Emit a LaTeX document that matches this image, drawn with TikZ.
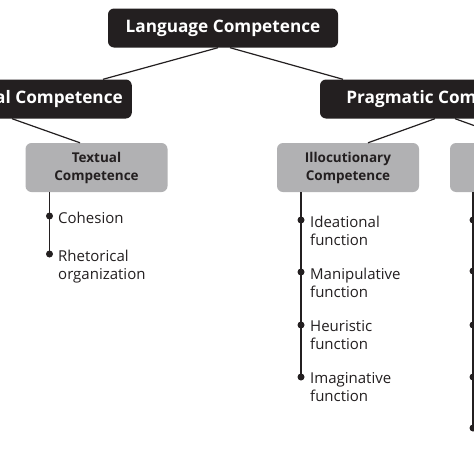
\documentclass[tikz,border=0pt]{standalone}
\usepackage{fontspec}
\setmainfont{Open Sans}
\usetikzlibrary{positioning,calc}
\definecolor{boxblack}{HTML}{231F20}
\definecolor{boxgray}{HTML}{B1B1B3}
\definecolor{inkdark}{HTML}{231F20}

\begin{document}
\begin{tikzpicture}[
    x=1pt, y=-1pt,
    topbox/.style={rectangle, rounded corners=6pt, fill=boxblack, text=white, font=\fontsize{17.2}{20}\selectfont\bfseries, minimum height=39pt, inner xsep=12pt},
    subbox/.style={rectangle, rounded corners=6pt, fill=boxgray, text=inkdark, font=\fontsize{13.5}{18}\selectfont\bfseries, align=center, minimum width=142pt, minimum height=49pt},
    leaf/.style={anchor=north west, inner sep=0pt, align=left, text=inkdark, font=\fontsize{15}{18}\selectfont},
    link/.style={draw=inkdark, line width=1.2pt},
    dot/.style={circle, fill=inkdark, inner sep=0pt, minimum size=7pt}
  ]
  \useasboundingbox (0,0) rectangle (474,474);
  \clip (0,0) rectangle (474,474);
  \fill[white] (0,0) rectangle (474,474);

  % Top levels
  \node[topbox, minimum width=230pt] (lang) at (223,28) {Language Competence};
  \node[topbox, anchor=east, inner xsep=9pt] (org) at (132,99) {Organizational Competence};
  \node[topbox, minimum width=252pt] (prag) at (446,99) {Pragmatic Competence};

  % Second level
  \node[subbox] (textual) at (96.5,167.5) {Textual\\Competence};
  \node[subbox] (illoc) at (348,167.5) {Illocutionary\\Competence};
  \node[subbox] (socio) at (521,167.5) {};

  \draw[link] ([xshift=-5pt]lang.south) -- ([xshift=-29pt]org.north east);
  \draw[link] ([xshift=7pt]lang.south) -- ([xshift=-103pt]prag.north);
  \draw[link] ([xshift=-120pt]org.south east) -- ([xshift=-16.5pt]textual.north);
  \draw[link] ([xshift=-11pt]prag.south) -- ([xshift=20pt]illoc.north);
  \draw[link] ([xshift=9pt]prag.south) -- ([xshift=1pt]socio.north);

  % Textual items
  \node[dot] (t1) at (49.5,216) {};
  \node[dot] (t2) at (49.5,254) {};
  \draw[link] (textual.south -| t2) -- (t2.center);
  \node[leaf] (cohesion) at (58,212) {Cohesion};
  \node[leaf] (rhetorical) at (58,250) {Rhetorical\\organization};

  % Illocutionary items
  \node[dot] (i1) at (301,220) {};
  \node[dot] (i2) at (301,272) {};
  \node[dot] (i3) at (301,325) {};
  \node[dot] (i4) at (301,377) {};
  \draw[link] (illoc.south -| i4) -- (i4.center);
  \node[leaf] (ideational) at (310,215.5) {Ideational\\function};
  \node[leaf] (manipulative) at (310,267.5) {Manipulative\\function};
  \node[leaf] (heuristic) at (310,320.5) {Heuristic\\function};
  \node[leaf] (imaginative) at (310,372.5) {Imaginative\\function};

  % Right column (cut off)
  \node[dot] (s1) at (473,220) {};
  \node[dot] (s2) at (473,271) {};
  \node[dot] (s3) at (473,325) {};
  \node[dot] (s4) at (473,377) {};
  \node[dot] (s5) at (473,428) {};
  \draw[link] (socio.south -| s5) -- (s5.center);
\end{tikzpicture}
\end{document}
